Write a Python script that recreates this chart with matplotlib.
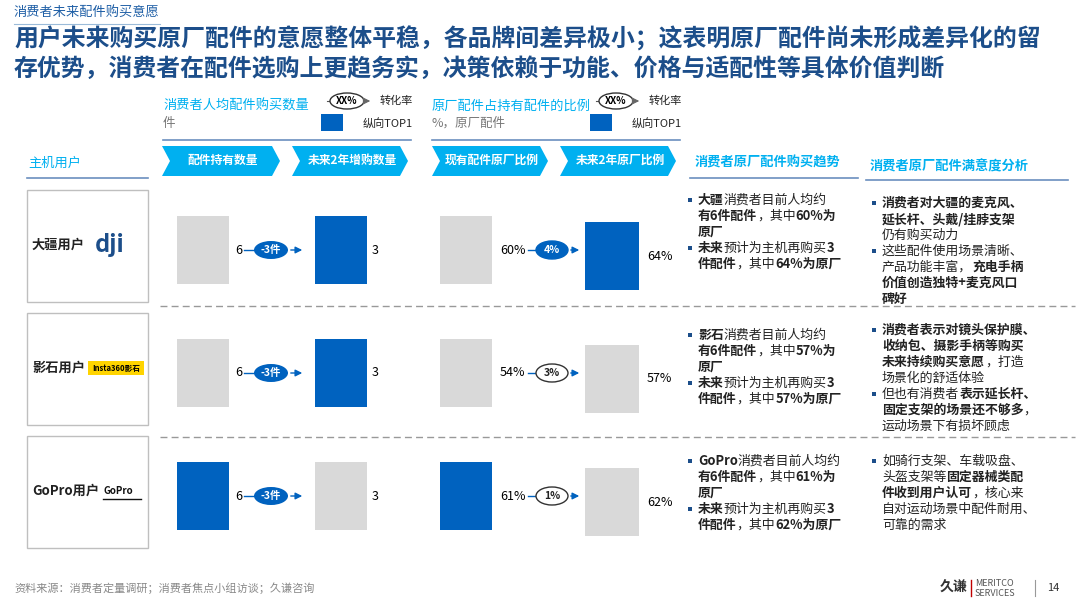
import matplotlib
matplotlib.use("Agg")
import matplotlib.pyplot as plt
from matplotlib.patches import Polygon, Rectangle, Ellipse

plt.rcParams['font.family'] = ['Noto Sans CJK SC', 'DejaVu Sans']

BLUE = "#0062bf"
GREY = "#d9d9d9"
CYAN = "#00b0f0"
NAVY = "#1c4e8a"
TXT = "#222222"

brands = ["大疆用户", "影石用户", "GoPro用户"]
count_now = [6, 6, 6]
count_future = [3, 3, 3]
count_change = ["-3件", "-3件", "-3件"]
count_top = [1, 1, 0]          # index of the TOP1 bar
pct_now = [60, 54, 61]
pct_future = [64, 57, 62]
pct_change = ["4%", "3%", "1%"]
pct_top = [1, None, 0]
pct_change_filled = [True, False, False]

trend_text = [
    [[("大疆", 1), ("消费者目前人均约", 0)], [("有6件配件", 1), ("，其中", 0), ("60%为", 1)], [("原厂", 1)],
     [("未来", 1), ("预计为主机再购买", 0), ("3", 1)], [("件配件", 1), ("，其中", 0), ("64%为原厂", 1)]],
    [[("影石", 1), ("消费者目前人均约", 0)], [("有6件配件", 1), ("，其中", 0), ("57%为", 1)], [("原厂", 1)],
     [("未来", 1), ("预计为主机再购买", 0), ("3", 1)], [("件配件", 1), ("，其中", 0), ("57%为原厂", 1)]],
    [[("GoPro", 1), ("消费者目前人均约", 0)], [("有6件配件", 1), ("，其中", 0), ("61%为", 1)], [("原厂", 1)],
     [("未来", 1), ("预计为主机再购买", 0), ("3", 1)], [("件配件", 1), ("，其中", 0), ("62%为原厂", 1)]],
]
trend_bullets = [[0, 3], [0, 3], [0, 3]]
sat_text = [
    [[("消费者对大疆的麦克风、", 1)], [("延长杆、头戴/挂脖支架", 1)], [("仍有购买动力", 0)],
     [("这些配件使用场景清晰、", 0)], [("产品功能丰富，", 0), ("充电手柄", 1)], [("价值创造独特+麦克风口", 1)], [("碑好", 1)]],
    [[("消费者表示对镜头保护膜、", 1)], [("收纳包、摄影手柄等购买", 1)], [("未来持续购买意愿", 1), ("，打造", 0)],
     [("场景化的舒适体验", 0)], [("但也有消费者", 0), ("表示延长杆、", 1)], [("固定支架的场景还不够多", 1), ("，", 0)],
     [("运动场景下有损坏顾虑", 0)]],
    [[("如骑行支架、车载吸盘、", 0)], [("头盔支架等", 0), ("固定器械类配", 1)], [("件收到用户认可", 1), ("，核心来", 0)],
     [("自对运动场景中配件耐用、", 0)], [("可靠的需求", 0)]],
]
sat_bullets = [[0, 3], [0, 4], [0]]

fig = plt.figure(figsize=(10.8, 6.07), dpi=100)
ax = fig.add_axes([0, 0, 1, 1])
ax.set_xlim(0, 1080)
ax.set_ylim(607, 0)
ax.axis("off")
fig.canvas.draw()
renderer = fig.canvas.get_renderer()


def rich(x, y, segs, size=9.3):
    for s, b in segs:
        t = ax.text(x, y, s, fontsize=size, color=TXT, fontweight="bold" if b else "normal", va="center")
        bb = t.get_window_extent(renderer)
        x += bb.width  # 1 px per data unit


# titles
ax.text(14, 13, "消费者未来配件购买意愿", fontsize=9.5, color="#1f5fa6", va="center")
ax.plot([14, 160], [24, 24], color="#9bbbd9", lw=0.8)
ax.text(14, 39, "用户未来购买原厂配件的意愿整体平稳，各品牌间差异极小；这表明原厂配件尚未形成差异化的留", fontsize=17.2,
        color=NAVY, fontweight="bold", va="center")
ax.text(14, 69, "存优势，消费者在配件选购上更趋务实，决策依赖于功能、价格与适配性等具体价值判断", fontsize=17.2,
        color=NAVY, fontweight="bold", va="center")

# legend blocks
for x0, title, unit in [(163, "消费者人均配件购买数量", "件"), (432, "原厂配件占持有配件的比例", "%，原厂配件")]:
    ax.text(x0, 106, title, fontsize=9.5, color=CYAN, va="center")
    ax.text(x0, 123, unit, fontsize=9, color="#777777", va="center")
    ax.plot([x0, x0 + 248], [140, 140], color="#6b8fbf", lw=1.2)
    ex = x0 + 172
    ax.plot([ex - 8, ex + 30], [101, 101], color="#555555", lw=0.8)
    ax.add_patch(Ellipse((ex + 12, 101), 34, 16, fc="white", ec="#333333", lw=1, zorder=3))
    ax.text(ex + 12, 101, "XX%", fontsize=7, fontweight="bold", ha="center", va="center", zorder=4)
    ax.annotate("", xy=(ex + 38, 101), xytext=(ex + 28, 101),
                arrowprops=dict(arrowstyle="-|>", color="#666666", lw=0.8))
    ax.text(ex + 45, 101, "转化率", fontsize=8, color=TXT, va="center")
    ax.add_patch(Rectangle((ex - 14, 114), 22, 17, fc=BLUE, ec="none"))
    ax.text(ex + 28, 123, "纵向TOP1", fontsize=8, color=TXT, va="center")

# chevron headers
for x0, w, lab in [(162, 118, "配件持有数量"), (292, 116, "未来2年增购数量"),
                   (432, 116, "现有配件原厂比例"), (560, 116, "未来2年原厂比例")]:
    pts = [(x0, 146), (x0 + w - 8, 146), (x0 + w, 161), (x0 + w - 8, 176), (x0, 176), (x0 + 8, 161)]
    ax.add_patch(Polygon(pts, fc=CYAN, ec="none"))
    ax.text(x0 + w / 2 + 2, 160, lab, fontsize=8.5, color="white", fontweight="bold", ha="center", va="center")

ax.text(28, 163, "主机用户", fontsize=9.5, color=CYAN, va="center")
ax.plot([27, 148], [178, 178], color="#6b8fbf", lw=1.2)
ax.text(695, 163, "消费者原厂配件购买趋势", fontsize=9.5, color=CYAN, fontweight="bold", va="center")
ax.plot([690, 858], [178, 178], color="#6b8fbf", lw=1.2)
ax.text(870, 166, "消费者原厂配件满意度分析", fontsize=9.5, color=CYAN, fontweight="bold", va="center")
ax.plot([866, 1068], [180, 180], color="#6b8fbf", lw=1.2)

row_y = [250, 373, 496]
trend_start = [200, 335, 461]
sat_start = [203, 330, 461]
bar_h = 68
for i, yc in enumerate(row_y):
    # brand box
    ax.add_patch(Rectangle((27, yc - 60), 121, 112, fc="white", ec="#bfbfbf", lw=1))
    ax.text(32, yc - 5, brands[i], fontsize=9.5, fontweight="bold", color=TXT, va="center")
    if i == 0:
        ax.text(95, yc - 5, "dji", fontsize=17, fontweight="bold", color=NAVY, va="center", style="italic")
    elif i == 1:
        ax.add_patch(Rectangle((88, yc - 12), 56, 14, fc="#ffd400", ec="none"))
        ax.text(116, yc - 5, "Insta360影石", fontsize=5.5, ha="center", va="center", fontweight="bold")
    else:
        ax.text(103, yc - 5, "GoPro", fontsize=7, fontweight="bold", color="#111111", va="center")
        ax.plot([103, 141], [yc + 3, yc + 3], color="#111111", lw=1)
    top = yc - 34
    # count bars
    cols = [BLUE if count_top[i] == k else GREY for k in range(2)]
    ax.bar([203, 341], [bar_h, bar_h], width=52, bottom=top, color=cols)
    ax.text(235, yc, f"{count_now[i]}", fontsize=9, va="center")
    ax.text(372, yc, f"{count_future[i]}", fontsize=9, va="center")
    ax.plot([244, 258], [yc, yc], color=BLUE, lw=1)
    ax.add_patch(Ellipse((271, yc), 34, 18, fc=BLUE, ec="none", zorder=3))
    ax.text(271, yc, count_change[i], fontsize=7.5, color="white", fontweight="bold", ha="center", va="center", zorder=4)
    ax.annotate("", xy=(305, yc), xytext=(288, yc), arrowprops=dict(arrowstyle="-|>", color=BLUE, lw=1))
    # pct bars
    cols = [BLUE if pct_top[i] == k else GREY for k in range(2)]
    ax.bar([466], [bar_h], width=52, bottom=top, color=cols[0])
    ax.bar([612], [bar_h], width=54, bottom=top + 6, color=cols[1])
    ax.text(500, yc, f"{pct_now[i]}%", fontsize=9, va="center")
    ax.text(647, yc + 6, f"{pct_future[i]}%", fontsize=9, va="center")
    ax.plot([528, 536], [yc, yc], color=BLUE, lw=1)
    filled = pct_change_filled[i]
    ax.add_patch(Ellipse((552, yc), 32, 18, fc=BLUE if filled else "white",
                         ec=BLUE if filled else "#333333", lw=1, zorder=3))
    ax.text(552, yc, pct_change[i], fontsize=7.5, color="white" if filled else TXT,
            fontweight="bold", ha="center", va="center", zorder=4)
    ax.annotate("", xy=(582, yc), xytext=(568, yc), arrowprops=dict(arrowstyle="-|>", color=BLUE, lw=1))
    # text columns
    y0 = trend_start[i]
    for j, segs in enumerate(trend_text[i]):
        if j in trend_bullets[i]:
            ax.add_patch(Rectangle((688, y0 + j * 16 - 2), 4, 4, fc=NAVY, ec="none"))
        rich(698, y0 + j * 16, segs)
    y0 = sat_start[i]
    for j, segs in enumerate(sat_text[i]):
        if j in sat_bullets[i]:
            ax.add_patch(Rectangle((872, y0 + j * 16 - 2), 4, 4, fc=NAVY, ec="none"))
        rich(882, y0 + j * 16, segs)

for yy in [306, 437]:
    ax.plot([160, 1075], [yy, yy], color="#999999", lw=1, ls=(0, (5, 3)))

# footer
ax.text(14, 588, "资料来源：消费者定量调研；消费者焦点小组访谈；久谦咨询", fontsize=8, color="#888888", va="center")
ax.text(940, 588, "久谦", fontsize=10, color="#333333", fontweight="bold", va="center")
ax.plot([971, 971], [580, 596], color="#c00000", lw=1)
ax.text(975, 583, "MERITCO", fontsize=6.5, color="#555555", va="center")
ax.text(975, 594, "SERVICES", fontsize=6.5, color="#555555", va="center")
ax.plot([1035, 1035], [580, 596], color="#999999", lw=0.8)
ax.text(1047, 588, "14", fontsize=8, color="#333333", va="center")

fig.savefig("out.png", dpi=100)
